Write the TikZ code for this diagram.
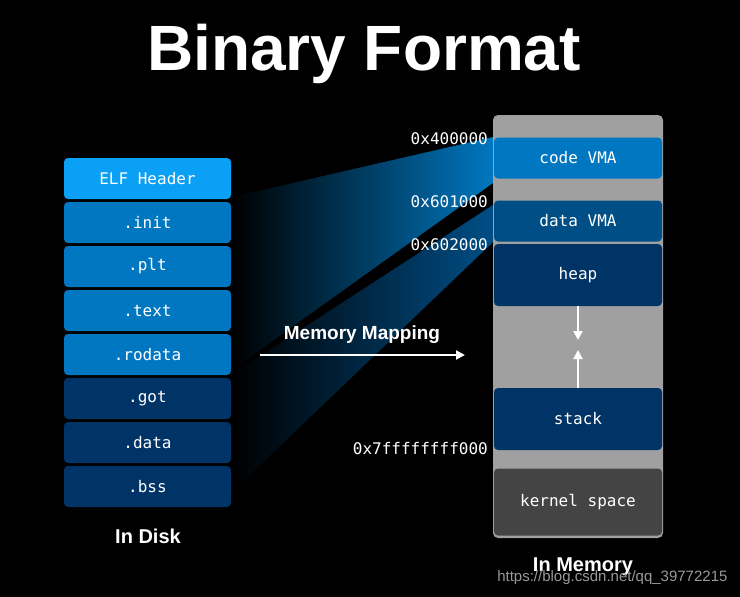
\documentclass[tikz,border=0pt]{standalone}
\usepackage{fontspec}
\setmainfont{Liberation Sans}
\setmonofont{DejaVu Sans Mono}
\usetikzlibrary{positioning,arrows.meta}
\begin{document}
\definecolor{elfblue}{HTML}{0AA0F5}
\definecolor{secblue}{HTML}{0077C0}
\definecolor{datablue}{HTML}{004E86}
\definecolor{navy}{HTML}{003366}
\definecolor{kernelgray}{HTML}{444444}
\definecolor{colgray}{HTML}{A0A0A0}
\tikzset{
  seg/.style={draw=none, rounded corners=4pt, minimum width=167pt, minimum height=41pt,
    text=white, font=\ttfamily\fontsize{16}{18}\selectfont, inner sep=0pt, outer sep=0pt},
  addr/.style={anchor=east, text=white, font=\ttfamily\fontsize{16}{18}\selectfont, inner sep=0pt},
  caption/.style={text=white, font=\bfseries\fontsize{20}{24}\selectfont},
  whitearrow/.style={white, line width=2pt, -{Triangle[length=9pt,width=9pt]}}
}
\begin{tikzpicture}[x=1pt,y=-1pt]
\fill[black] (0,0) rectangle (740,597);
\useasboundingbox (0,0) rectangle (740,597);
% beams
\shade[left color=black, right color=secblue] (232,197) -- (493,137) -- (493,183) -- (232,370) -- cycle;
\shade[left color=black, right color=datablue] (232,374) -- (493,205) -- (493,242) -- (232,492) -- cycle;
% title
\node[text=white, font=\bfseries\fontsize{64}{70}\selectfont] (title) at (364,54) {Binary Format};
% in disk
\node[seg, fill=elfblue, anchor=north west] (elf) at (64,158) {ELF Header};
\node[seg, fill=secblue, below=3pt of elf] (init) {.init};
\node[seg, fill=secblue, below=3pt of init] (plt) {.plt};
\node[seg, fill=secblue, below=3pt of plt] (text) {.text};
\node[seg, fill=secblue, below=3pt of text] (rodata) {.rodata};
\node[seg, fill=navy, below=3pt of rodata] (got) {.got};
\node[seg, fill=navy, below=3pt of got] (data) {.data};
\node[seg, fill=navy, below=3pt of data] (bss) {.bss};
\node[caption] (disk) at (148,536) {In Disk};
% in memory
\fill[colgray, rounded corners=5pt] (493,115) rectangle (663,538);
\node[seg, minimum width=168pt, fill=secblue] (code) at (578,158) {code VMA};
\node[seg, minimum width=168pt, fill=datablue] (dvma) at (578,221) {data VMA};
\node[seg, minimum width=168pt, minimum height=62pt, fill=navy] (heap) at (578,275) {heap};
\node[seg, minimum width=168pt, minimum height=62pt, fill=navy] (stack) at (578,419) {stack};
\node[seg, minimum width=168pt, minimum height=67pt, fill=kernelgray] (kernel) at (578,502) {kernel space};
\coordinate (hdown) at (578,340);
\coordinate (sup) at (578,350);
\draw[whitearrow] (heap.south) -- (hdown);
\draw[whitearrow] (stack.north) -- (sup);
\node[caption] (mem) at (583,567) {In Memory};
% addresses
\node[addr] (a1) at (488,139) {0x400000};
\node[addr] (a2) at (488,202) {0x601000};
\node[addr] (a3) at (488,245) {0x602000};
\node[addr] (a4) at (488,449) {0x7ffffffff000};
% mapping
\node[caption, font=\bfseries\fontsize{19}{22}\selectfont] (map) at (362,335) {Memory Mapping};
\coordinate (mapL) at (260,355);
\coordinate (mapR) at (465,355);
\draw[whitearrow] (mapL) -- (mapR);
\node[text=gray!80, anchor=east, font=\fontsize{15}{17}\selectfont] (wm) at (731,578) {https://blog.csdn.net/qq\_39772215};
\end{tikzpicture}
\end{document}
